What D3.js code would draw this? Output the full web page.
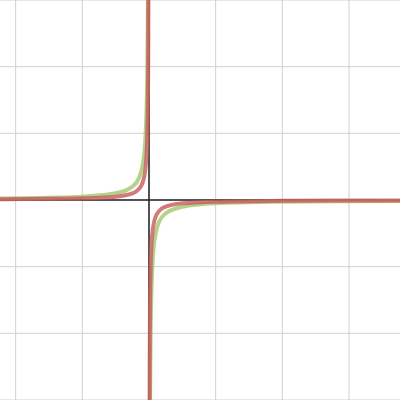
<!DOCTYPE html>
<html><head><meta charset="utf-8">
<script src="https://cdn.jsdelivr.net/npm/d3@7"></script>
<style>body{margin:0;background:#fff}</style></head>
<body><svg id="c" width="400" height="400"></svg>
<script>
const gridX = [-2, -1, 0, 1, 2, 3];
const gridY = [-3, -2, -1, 0, 1, 2, 3];
const greenLeftX = [-2.3, -1.5, -1, -0.5, -0.25, -0.15, -0.1, -0.07, -0.05, -0.035, -0.025, -0.017, -0.012];
const greenLeftY = [0.022, 0.033, 0.05, 0.1, 0.2, 0.33, 0.5, 0.71, 1, 1.43, 2, 2.94, 4.2];
const greenRightX = [0.012, 0.017, 0.025, 0.035, 0.05, 0.07, 0.1, 0.15, 0.25, 0.5, 1, 2, 3, 3.8];
const greenRightY = [-4.2, -2.94, -2, -1.43, -1, -0.71, -0.5, -0.33, -0.2, -0.1, -0.05, -0.025, -0.017, -0.013];
const redLeftX = [-2.3, -1.5, -1, -0.5, -0.25, -0.15, -0.1, -0.07, -0.05, -0.035, -0.025, -0.017, -0.012, -0.007];
const redLeftY = [0.011, 0.017, 0.025, 0.05, 0.1, 0.167, 0.25, 0.36, 0.5, 0.71, 1, 1.47, 2.08, 3.6];
const redRightX = [0.007, 0.012, 0.017, 0.025, 0.035, 0.05, 0.07, 0.1, 0.15, 0.25, 0.5, 1, 2, 3, 3.8];
const redRightY = [-3.6, -2.08, -1.47, -1, -0.71, -0.5, -0.36, -0.25, -0.167, -0.1, -0.05, -0.025, -0.0125, -0.008, -0.0066];

const svg = d3.select("#c");
const x = d3.scaleLinear().domain([-2.235, 3.765]).range([0, 400]);
const y = d3.scaleLinear().domain([-3, 3]).range([400, 0]);

svg.append("g").selectAll("line").data(gridX).join("line")
  .attr("x1", d => x(d)).attr("x2", d => x(d)).attr("y1", 0).attr("y2", 400)
  .attr("stroke", "#d0d0d0").attr("stroke-width", 1);
svg.append("g").selectAll("line").data(gridY).join("line")
  .attr("y1", d => y(d)).attr("y2", d => y(d)).attr("x1", 0).attr("x2", 400)
  .attr("stroke", "#d0d0d0").attr("stroke-width", 1);
svg.append("line").attr("x1", x(0)).attr("x2", x(0)).attr("y1", 0).attr("y2", 400).attr("stroke", "#222").attr("stroke-width", 1.5);
svg.append("line").attr("y1", y(0)).attr("y2", y(0)).attr("x1", 0).attr("x2", 400).attr("stroke", "#222").attr("stroke-width", 1.5);

const line = d3.line().x(d => x(d[0])).y(d => y(d[1])).curve(d3.curveMonotoneX);
function draw(xs, ys, col) {
  svg.append("path").datum(d3.zip(xs, ys)).attr("d", line)
    .attr("fill", "none").attr("stroke", col).attr("stroke-width", 4)
    .attr("stroke-linecap", "round");
}
draw(greenLeftX, greenLeftY, "rgba(160,200,110,0.8)");
draw(greenRightX, greenRightY, "rgba(160,200,110,0.8)");
draw(redLeftX, redLeftY, "rgba(200,90,90,0.8)");
draw(redRightX, redRightY, "rgba(200,90,90,0.8)");
</script></body></html>
